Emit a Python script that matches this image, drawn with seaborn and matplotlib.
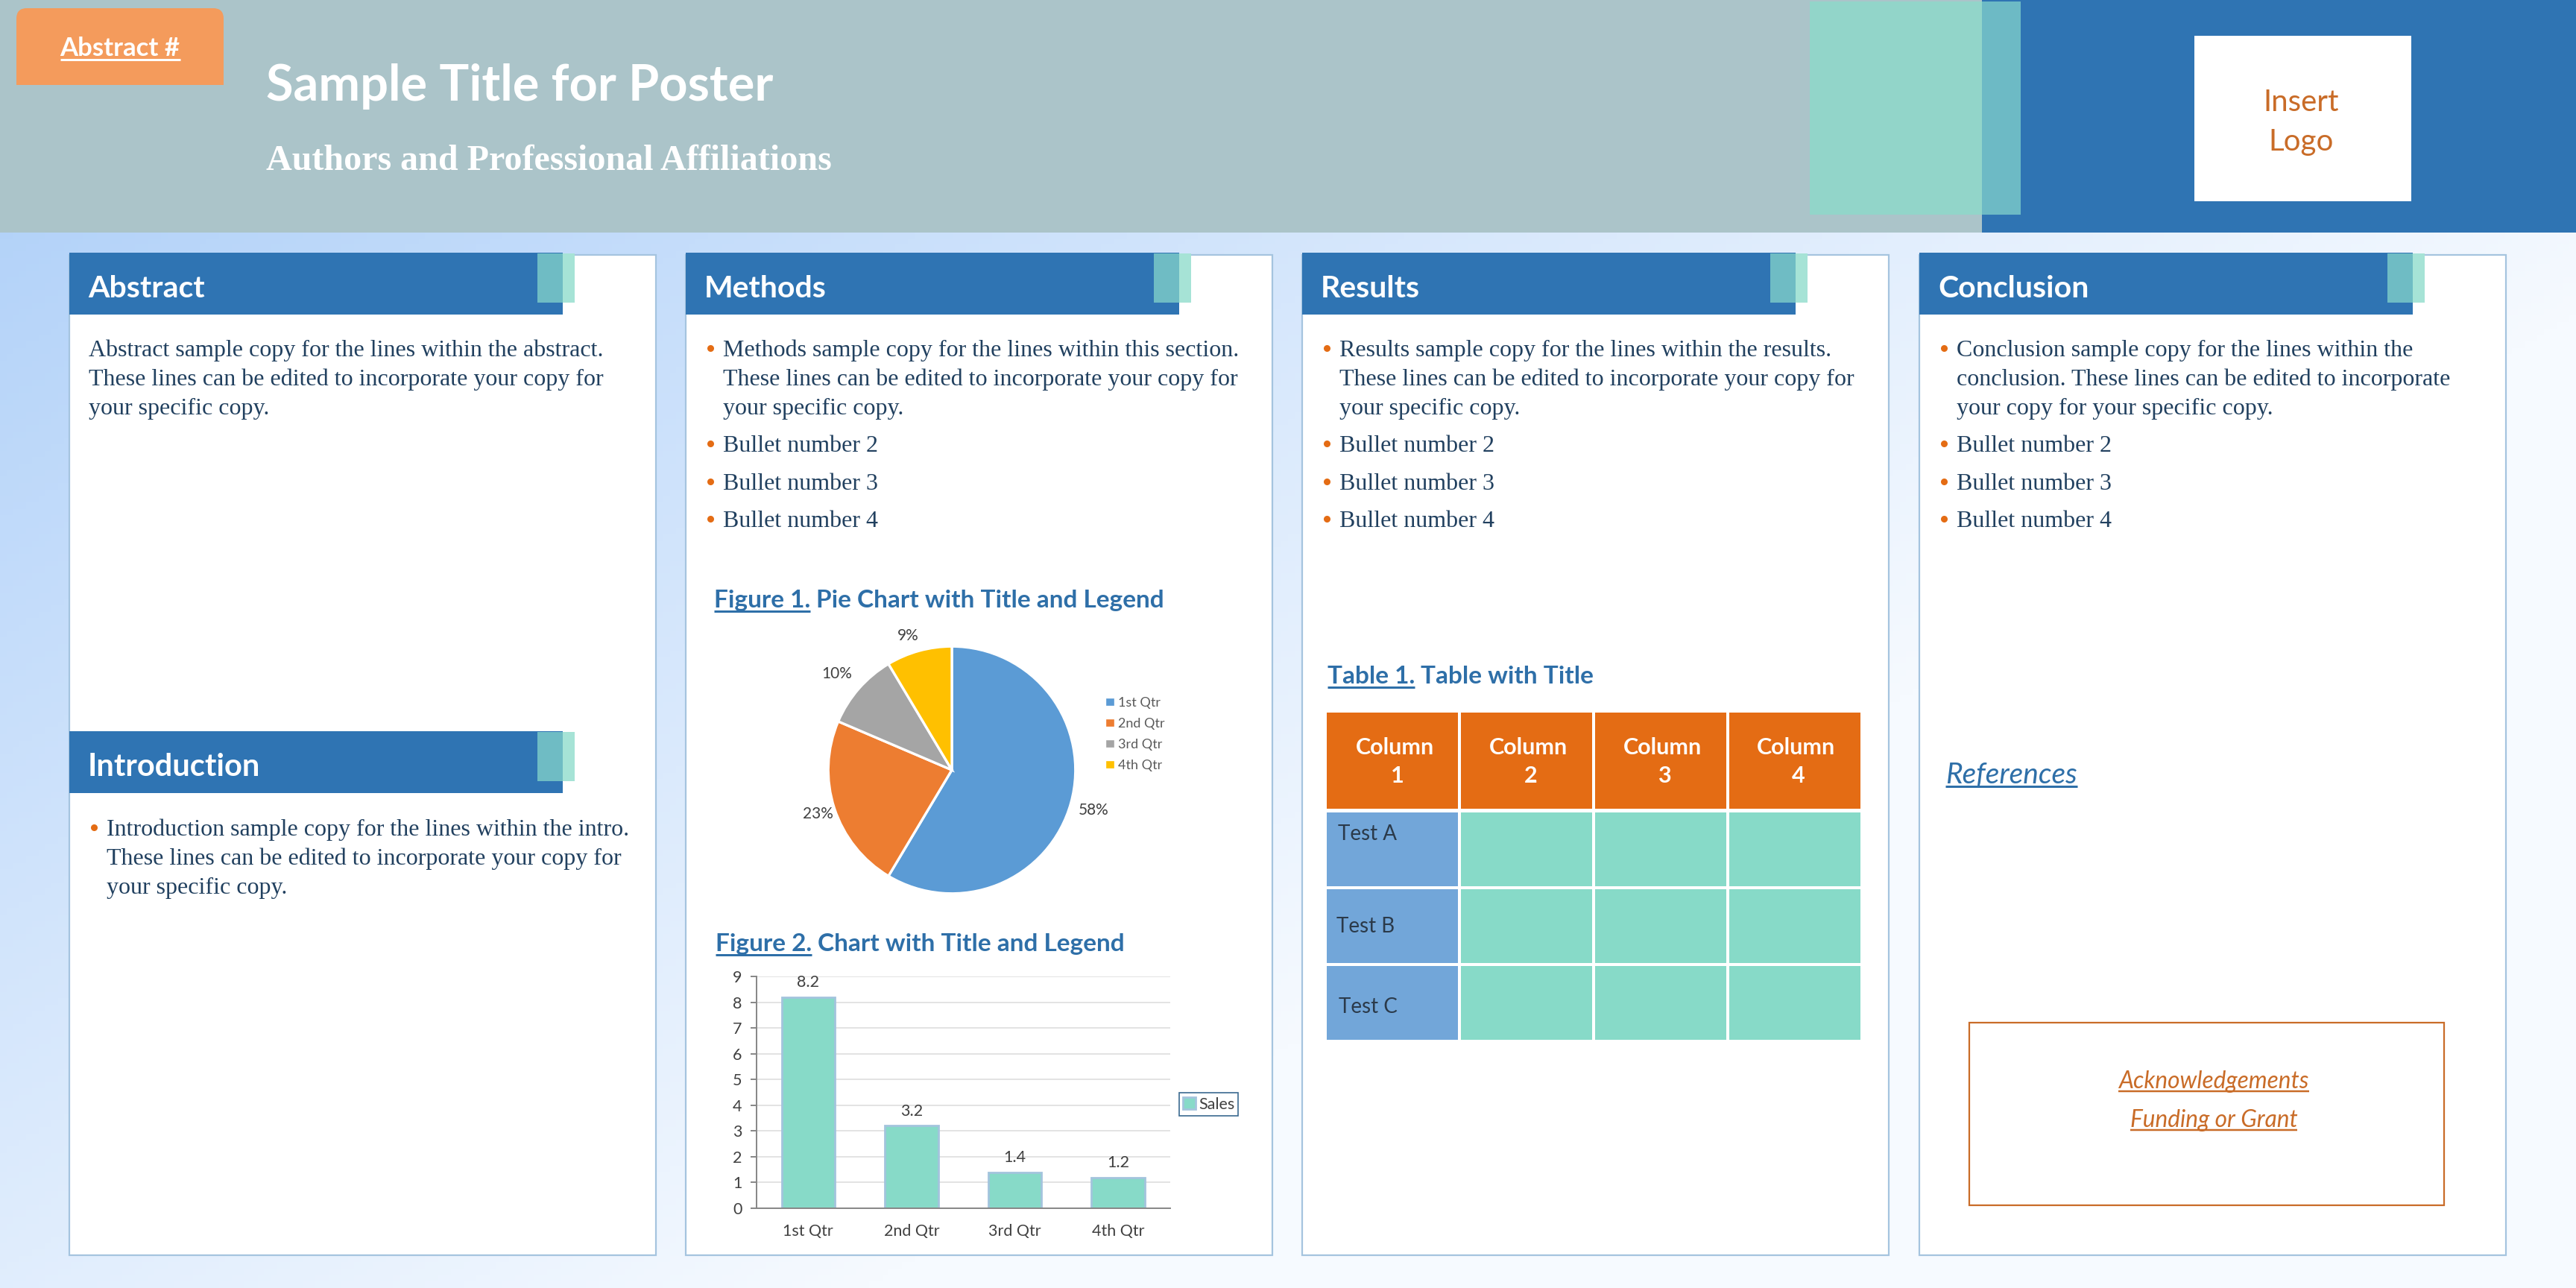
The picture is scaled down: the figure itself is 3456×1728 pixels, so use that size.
import numpy as np
import matplotlib
matplotlib.use('Agg')
import matplotlib.pyplot as plt
from matplotlib.colors import LinearSegmentedColormap, ListedColormap
from matplotlib.lines import Line2D
from matplotlib.patches import FancyBboxPatch, Rectangle
import seaborn as sns

W, H = 3456, 1728

quarters = ['1st Qtr', '2nd Qtr', '3rd Qtr', '4th Qtr']
pie_labels = ['58%', '23%', '10%', '9%']
sales = [8.2, 3.2, 1.4, 1.2]
y_ticks = [0, 1, 2, 3, 4, 5, 6, 7, 8, 9]
table_columns = ['Column\n1', 'Column\n2', 'Column\n3', 'Column\n4']
table_rows = ['Test A', 'Test B', 'Test C']

BAND = '#2f74b3'
ORANGE = '#e46c14'
TEAL = '#87dac8'
BODY = '#21405f'
HEAD = '#2e6fa8'
RUST = '#c96c28'
SANS = 'Lato'
SERIF = 'Liberation Serif'

sns.set_theme(style='white')
plt.rcParams['font.family'] = [SANS, 'DejaVu Sans']

fig = plt.figure(figsize=(W / 100, H / 100), dpi=100)


def ax_px(x0, y0, x1, y1, **kw):
    return fig.add_axes([x0 / W, 1 - y1 / H, (x1 - x0) / W, (y1 - y0) / H], **kw)


def put(x, y, s, size, color=BODY, family=SANS, weight='normal', style='normal', ha='left', va='baseline'):
    return fig.text(x / W, 1 - y / H, s, fontsize=size, color=color, family=family,
                    weight=weight, style=style, ha=ha, va=va)


def underline(t, y, color, lw=3):
    box = t.get_window_extent(fig.canvas.get_renderer())
    fig.add_artist(Line2D([box.x0 / W, box.x1 / W], [1 - y / H, 1 - y / H], color=color,
                          lw=lw * 0.72, transform=fig.transFigure, solid_capstyle='butt'))
    return box


def caption(x, y, head, rest, size=24):
    t = put(x, y, head, size, HEAD, weight='bold')
    box = underline(t, y + 5, HEAD, 3)
    put(box.x1 + 8, y, rest, size, HEAD, weight='bold')


# ------ background and shapes
bg = ax_px(0, 0, W, H, zorder=-1)
gx, gy = np.meshgrid(np.linspace(0, 1, 400), np.linspace(0, 1, 200))
ramp = np.clip(0.82 * gx + 0.72 * gy, 0, 1)
bg.imshow(ramp, extent=(0, W, H, 0), aspect='auto',
          cmap=LinearSegmentedColormap.from_list('page', ['#aacdf8', '#f6faff']))
bg.set_xlim(0, W)
bg.set_ylim(H, 0)
bg.axis('off')


def box(x0, y0, x1, y1, color, **kw):
    bg.add_patch(Rectangle((x0, y0), x1 - x0, y1 - y0, facecolor=color, edgecolor=kw.pop('edge', 'none'), **kw))


box(0, 0, 2659, 312, '#abc4c9')
box(2659, 0, W, 312, BAND)
box(2428, 2, 2659, 288, '#92d5c9')
box(2659, 2, 2711, 288, '#6dbac5')
box(2944, 48, 3235, 270, 'white')

bg.add_patch(FancyBboxPatch((22 + 14, 11 + 14), 278 - 28, 103 - 28, boxstyle='round,pad=14,rounding_size=14',
                            facecolor='#f49b5c', edgecolor='none'))
box(22, 70, 300, 114, '#f49b5c')

panel_left = [93, 920, 1747, 2575]
for x0 in panel_left:
    box(x0, 342, x0 + 787, 1684, 'white', edge='#a5c4df', lw=1.6)


def band(x0, y0):
    box(x0, y0, x0 + 662, y0 + 83, BAND)
    box(x0 + 628, y0 + 1, x0 + 662, y0 + 67, '#6fbcc4')
    box(x0 + 662, y0 + 1, x0 + 678, y0 + 67, '#a6e3d6')


for x0 in panel_left:
    band(x0, 339)
band(93, 981)

box(2642, 1372, 3279, 1617, 'none', edge=RUST, lw=1.6)

# ------ header text
t = put(161, 75, 'Abstract #', 25, 'white', weight='bold', ha='center')
underline(t, 80, 'white', 3)
put(357, 135, 'Sample Title for Poster', 48, 'white', weight='bold')
put(357, 228, 'Authors and Professional Affiliations', 34.6, 'white', family=SERIF, weight='bold')
put(3087, 149, 'Insert', 29, RUST, ha='center')
put(3087, 202, 'Logo', 29, RUST, ha='center')

for x0, name in zip(panel_left, ['Abstract', 'Methods', 'Results', 'Conclusion']):
    put(x0 + 25, 399, name, 29.5, 'white', weight='bold')
put(118, 1041, 'Introduction', 30, 'white', weight='bold')


# ------ body copy
def copy_block(x, lines, start=478, step=39, size=23):
    for i, line in enumerate(lines):
        put(x, start + i * step, line, size, BODY, family=SERIF)


def dot(x, y):
    bg.plot([x], [y], marker='o', ms=6.5, color=ORANGE, mec='none')


def bullets(x0, lines):
    copy_block(x0 + 50, lines)
    dot(x0 + 33, 467)
    for label, y in zip(['Bullet number 2', 'Bullet number 3', 'Bullet number 4'], [606, 657, 707]):
        put(x0 + 50, y, label, 23, BODY, family=SERIF)
        dot(x0 + 33, y - 11)


copy_block(119, ['Abstract sample copy for the lines within the abstract.',
                 'These lines can be edited to incorporate your copy for',
                 'your specific copy.'])
bullets(920, ['Methods sample copy for the lines within this section.',
              'These lines can be edited to incorporate your copy for',
              'your specific copy.'])
bullets(1747, ['Results sample copy for the lines within the results.',
               'These lines can be edited to incorporate your copy for',
               'your specific copy.'])
bullets(2575, ['Conclusion sample copy for the lines within the',
               'conclusion. These lines can be edited to incorporate',
               'your copy for your specific copy.'])
copy_block(143, ['Introduction sample copy for the lines within the intro.',
                 'These lines can be edited to incorporate your copy for',
                 'your specific copy.'], start=1121)
dot(126, 1110)

# ------ pie
caption(958, 815, 'Figure 1.', 'Pie Chart with Title and Legend')
pie_ax = ax_px(1277 - 216, 1033 - 216, 1277 + 216, 1033 + 216)
pie_ax.patch.set_visible(False)
wedges, labels = pie_ax.pie(sales, labels=pie_labels, radius=1, startangle=90,
                            counterclock=False, labeldistance=1.18,
                            colors=['#5b9bd5', '#ed7d31', '#a5a5a5', '#ffc000'],
                            wedgeprops={'edgecolor': 'white', 'linewidth': 2.4},
                            textprops={'fontsize': 15, 'color': '#404040'})
pie_ax.set_xlim(-1.303, 1.303)
pie_ax.set_ylim(-1.303, 1.303)
nudges = [(0.01, -0.01), (0.04, 0.01), (-0.04, 0.0), (-0.04, -0.05)]
for lab, (dx, dy) in zip(labels, nudges):
    lab.set_ha('center')
    lab.set_va('center')
    px, py = lab.get_position()
    lab.set_position((px + dx, py + dy))
leg = pie_ax.legend(wedges, quarters, loc='center left', bbox_to_anchor=(1482 / W, 1 - 985 / H),
                    bbox_transform=fig.transFigure, frameon=False, fontsize=13, handlelength=0.75,
                    handleheight=0.75, handletextpad=0.25, labelspacing=0.66, borderpad=0, borderaxespad=0,
                    labelcolor='#595959')

# ------ bars
caption(960, 1276, 'Figure 2.', 'Chart with Title and Legend')
bar_ax = ax_px(1015, 1310, 1569.5, 1621)
bar_ax.patch.set_visible(False)
sns.barplot(x=quarters, y=sales, color=TEAL, saturation=1, width=0.516, edgecolor='#a3c4dd', linewidth=2,
            label='Sales', legend=False, ax=bar_ax, zorder=2)
bar_ax.set_ylim(0, 9)
bar_ax.set_xlim(-0.5, 3.5)
bar_ax.set_yticks(y_ticks)
bar_ax.grid(True, axis='y', color='#dedede', lw=1.2, zorder=0)
bar_ax.set_axisbelow(True)
bar_ax.tick_params(axis='y', length=6, width=1.4, color='#868686', labelsize=15.5, labelcolor='#404040', pad=8, left=True)
bar_ax.tick_params(axis='x', length=0, labelsize=15.5, labelcolor='#404040', pad=15)
sns.despine(ax=bar_ax, top=True, right=True)
for side in ['left', 'bottom']:
    bar_ax.spines[side].set_color('#868686')
    bar_ax.spines[side].set_linewidth(1.4)
bar_ax.bar_label(bar_ax.containers[0], fmt='%.1f', fontsize=15.5, color='#404040', padding=7)
bar_leg = bar_ax.legend(loc='center left', bbox_to_anchor=(1582 / W, 1 - 1481.5 / H), bbox_transform=fig.transFigure,
                        fontsize=15.5, frameon=True, fancybox=False, edgecolor='#3b6a90', framealpha=1, borderpad=0.25,
                        handlelength=0.75, handleheight=0.75, handletextpad=0.2, borderaxespad=0, labelcolor='#404040')
bar_leg.get_frame().set_linewidth(1.2)

# ------ table
t = put(1781, 917, 'Table 1.', 24, HEAD, weight='bold')
tb = underline(t, 922, HEAD, 3)
put(tb.x1 + 8, 917, 'Table with Title', 24, HEAD, weight='bold')

head_ax = ax_px(1778, 954, 2498, 1087)
sns.heatmap(np.zeros((1, 4)), cmap=ListedColormap([ORANGE]), cbar=False, linewidths=1.5, linecolor='white',
            xticklabels=False, yticklabels=False, ax=head_ax)
body_ax = ax_px(1778, 1088, 2498, 1397)
cell_kind = np.array([[0, 1, 1, 1], [0, 1, 1, 1], [0, 1, 1, 1]])
sns.heatmap(cell_kind, cmap=ListedColormap(['#72a6d9', TEAL]), cbar=False, linewidths=1.5, linecolor='white',
            xticklabels=False, yticklabels=False, ax=body_ax)

for i, name in enumerate(table_columns):
    top, low = name.split('\n')
    cx = 1782 + (i + 0.5) * (2497 - 1780) / 4
    put(cx, 1012, top, 22, 'white', weight='bold', ha='center')
    put(cx + 3, 1050, low, 22, 'white', weight='bold', ha='center')
for name, x, y in zip(table_rows, [1795, 1793, 1796], [1127, 1251, 1359]):
    put(x, y, name, 20, '#2b3a4a')

# ------ references and acknowledgements
t = put(2610, 1051, 'References', 28, HEAD, style='italic')
underline(t, 1055, HEAD, 3)
t = put(2970, 1460, 'Acknowledgements', 22.8, RUST, style='italic', ha='center')
underline(t, 1464, RUST, 2.5)
t = put(2970, 1512, 'Funding or Grant', 22.8, RUST, style='italic', ha='center')
underline(t, 1516, RUST, 2.5)

fig.savefig('out.png', dpi=100)
